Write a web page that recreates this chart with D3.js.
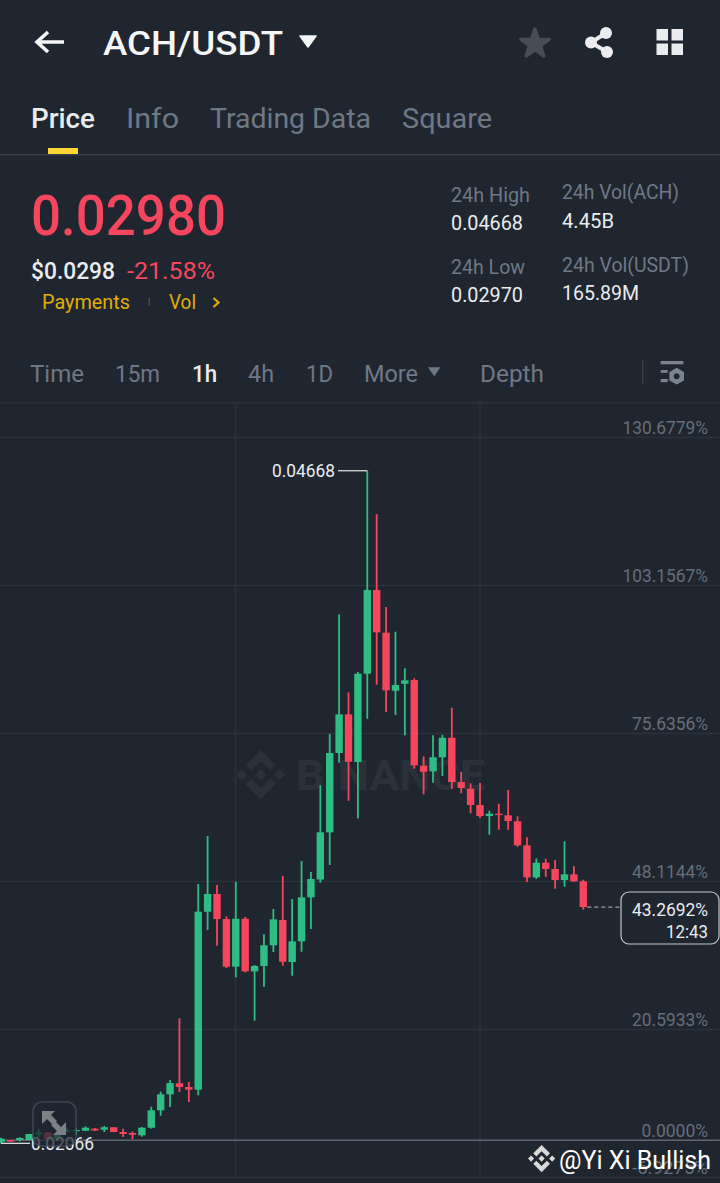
<!DOCTYPE html>
<html>
<head>
<meta charset="utf-8">
<script src="https://cdn.jsdelivr.net/npm/d3@7"></script>
<style>
html,body{margin:0;padding:0;background:#1f2630;}
svg{display:block;}
text{font-family:Roboto,"Noto Sans",sans-serif;}
</style>
</head>
<body>
<svg id="chart" width="720" height="1183"></svg>
<script>
// percent change from the period open, one entry per 1h candle
var opens = [-0.43,-0.06,-0.06,-0.06,1.06,1.38,0.19,1.56,1.62,1.67,2.05,1.86,2.31,1.43,1.25,0.82,2.23,5.47,8.44,10.49,
  9.80,9.30,42.40,45.69,41.04,32.17,41.09,31.31,32.30,36.15,
  40.85,33.04,36.89,45.07,48.38,57.16,71.91,79.10,70.23,86.65,
  102.22,94.28,83.49,84.79,85.48,69.55,68.50,71.11,74.75,66.51,
  65.27,62.24,60.19,60.62,60.32,59.21,54.74,48.79,51.51,50.34,
  48.29,49.35,48.05];
var closes = [0.19,-0.37,0.32,1.06,1.30,0.13,0.87,1.75,1.80,2.23,1.71,2.31,1.43,1.06,0.93,2.23,5.47,8.44,10.54,9.80,
  9.30,42.40,45.69,41.04,32.17,41.09,31.31,32.30,36.15,40.98,
  33.10,36.89,45.07,48.48,57.16,71.91,79.10,70.29,86.65,102.22,
  94.35,83.57,84.55,85.43,69.62,68.43,71.11,74.75,66.51,65.40,
  62.24,60.19,60.62,60.38,59.26,54.74,48.79,51.51,50.34,48.29,
  49.35,48.05,43.27];
var highs = [0.37,-0.06,0.45,1.06,1.93,1.38,1.38,2.12,2.12,2.49,2.18,2.55,2.31,2.05,1.49,2.36,6.14,8.93,11.10,22.57,
  10.73,47.55,56.47,47.36,41.54,47.98,41.41,32.49,38.19,42.90,
  49.04,44.76,51.82,49.78,65.90,75.44,97.70,83.19,86.97,124.40,
  116.35,99.06,94.46,87.66,85.80,71.29,75.20,75.31,80.33,68.43,
  66.27,66.33,61.18,62.48,65.03,60.14,56.23,52.33,52.25,52.01,
  55.49,50.84,48.35];
var lows = [-0.67,-0.37,-0.30,-0.06,0.56,0.13,-0.06,1.43,0.87,1.62,1.62,1.43,1.43,0.50,0.07,0.56,2.05,4.46,6.08,8.87,
  7.01,8.26,38.99,36.07,31.93,30.20,31.13,22.13,28.45,34.90,
  32.36,30.50,34.96,39.18,47.79,51.08,70.10,63.04,59.76,78.28,
  84.61,79.53,78.97,75.20,68.99,64.23,66.38,67.63,65.21,64.41,
  60.69,59.82,56.71,57.64,57.64,54.48,47.92,48.48,48.85,46.67,
  47.05,47.92,42.77];

var tickValues = [130.6779,103.1567,75.6356,48.1144,20.5933,0,-6.9275];
var tickLabels = ["130.6779%","103.1567%","75.6356%","48.1144%","20.5933%","0.0000%","-6.9275%"];
var lastPct = 43.2692;
var highPct = 124.40;
var lowPct = -0.67;

var WHITE = "#eaecef", GRAY = "#6f7885", RED = "#f6465d", GREEN = "#2ebd85", YELLOW = "#e2ad0c", GRID = "#2b3139";

var svg = d3.select("#chart");

// page text: label, left, right, baseline, size, weight, colour
var pageText = [
  ["ACH/USDT",103,283,55,33,500,"#f5f6f7"],
  ["Price",31,95,128,28,500,WHITE],
  ["Info",126,179,128,28,400,GRAY],
  ["Trading Data",210,371,128,28,400,GRAY],
  ["Square",402,492,128,28,400,GRAY],
  ["0.02980",31,226,235,55,500,RED],
  ["$0.0298",31,115,279,24,500,WHITE],
  ["-21.58%",127,215,279,24,400,RED],
  ["Payments",42,130,309,20,400,YELLOW],
  ["Vol",169,196,309,20,400,YELLOW],
  ["24h High",451,530,202,20,400,GRAY],
  ["0.04668",451,523,230,20,400,WHITE],
  ["24h Low",451,525,274,20,400,GRAY],
  ["0.02970",451,523,302,20,400,WHITE],
  ["24h Vol(ACH)",562,679,199,20,400,GRAY],
  ["4.45B",562,614,228,20,400,WHITE],
  ["24h Vol(USDT)",562,689,272,20,400,GRAY],
  ["165.89M",562,639,300,20,400,WHITE],
  ["Time",30,84,382,24,400,GRAY],
  ["15m",115,160,382,24,400,GRAY],
  ["1h",192,217,382,24,500,WHITE],
  ["4h",248,274,382,24,400,GRAY],
  ["1D",306,333,382,24,400,GRAY],
  ["More",364,418,382,24,400,GRAY],
  ["Depth",480,544,382,24,400,GRAY]
];

function label(g, t) {
  return g.append("text").text(t[0])
    .attr("x", t[1]).attr("y", t[3])
    .attr("textLength", t[2] - t[1]).attr("lengthAdjust", "spacingAndGlyphs")
    .attr("font-size", t[4]).attr("font-weight", t[5]).attr("fill", t[6]);
}

var binancePath = "M38.73 53.2l24.59-24.58 24.6 24.6 14.3-14.31L63.32 0 24.43 38.9zM0 63.31l14.3-14.31 14.31 14.31-14.31 14.3zM38.73 73.41l24.59 24.59 24.6-24.6 14.31 14.29-38.9 38.91-38.91-38.88zM98 63.31l14.3-14.31 14.31 14.3-14.31 14.32zM77.83 63.3L63.32 48.78 52.59 59.51l-1.24 1.23-2.54 2.54 14.51 14.5 14.51-14.47z";

// ---- chart ----
var x = d3.scaleLinear().domain([0, opens.length - 1]).range([1, 583.3]);
var y = d3.scaleLinear().domain([0, 130.6779]).range([1139.7, 437]);

var plot = svg.append("g");

// vertical grid
plot.selectAll("line.v").data([235.5, 480]).enter().append("line")
  .attr("x1", function(d){return d;}).attr("x2", function(d){return d;})
  .attr("y1", 404).attr("y2", 1177)
  .attr("stroke", GRID).attr("stroke-width", 1.5);

// percent axis, gridlines come from the tick lines
var axis = d3.axisRight(y).tickValues(tickValues)
  .tickSize(720).tickFormat(function(d, i){return tickLabels[i];});
var axisG = plot.append("g").call(axis);
axisG.select(".domain").remove();
axisG.selectAll(".tick line")
  .attr("stroke", function(d){return d === 0 ? "#5e6570" : GRID;})
  .attr("stroke-width", 1.5);
axisG.selectAll(".tick text")
  .attr("x", 708).attr("dy", -3.5).attr("text-anchor", "end")
  .attr("textLength", function(d, i){return tickLabels[i].length * 9.5;})
  .attr("lengthAdjust", "spacingAndGlyphs")
  .attr("font-size", 18).attr("font-family", "Roboto").attr("fill", "#666e7a");

// watermark
plot.append("path").attr("d", binancePath)
  .attr("transform", "translate(236,750) scale(0.39)").attr("fill", GRID);
plot.append("text").text("BINANCE").attr("x", 296).attr("y", 790)
  .attr("textLength", 189).attr("lengthAdjust", "spacingAndGlyphs")
  .attr("font-size", 42).attr("font-weight", 700).attr("fill", GRID);

// candles
var candles = plot.selectAll("g.candle").data(opens).enter().append("g").attr("class", "candle");
function colour(i){return closes[i] >= opens[i] ? GREEN : RED;}
candles.append("line")
  .attr("x1", function(d,i){return x(i);}).attr("x2", function(d,i){return x(i);})
  .attr("y1", function(d,i){return y(highs[i]);}).attr("y2", function(d,i){return y(lows[i]);})
  .attr("stroke", function(d,i){return colour(i);}).attr("stroke-width", 1.8);
candles.append("rect")
  .attr("x", function(d,i){return x(i) - 3.7;}).attr("width", 7.4)
  .attr("y", function(d,i){return y(Math.max(opens[i], closes[i]));})
  .attr("height", function(d,i){return Math.max(1.2, Math.abs(y(opens[i]) - y(closes[i])));})
  .attr("fill", function(d,i){return colour(i);});

// high and low markers
plot.append("line").attr("x1", 338).attr("x2", x(39)).attr("y1", y(highPct)).attr("y2", y(highPct))
  .attr("stroke", WHITE).attr("stroke-width", 1.2);
label(plot, ["0.04668",272,335,477,18,400,WHITE]);
plot.append("line").attr("x1", x(0)).attr("x2", 30).attr("y1", y(lowPct)).attr("y2", y(lowPct))
  .attr("stroke", WHITE).attr("stroke-width", 1.2);
label(plot, ["0.02066",31,94,1150,18,400,WHITE]);

// expand button sits over the first candles
plot.append("rect").attr("x", 33).attr("y", 1102).attr("width", 43).attr("height", 44).attr("rx", 9)
  .attr("fill", "#1f2630").attr("fill-opacity", 0.72)
  .attr("stroke", "#474d57").attr("stroke-opacity", 0.8).attr("stroke-width", 1.5);
plot.append("path").attr("d", "M42 1111h13l-4 4 6 6-4 4-6-6-5 5zM66 1135h-13l4-4-6-6 4-4 6 6 5-5z")
  .attr("fill", "#7c8188");

// last price tag
plot.append("line").attr("x1", x(62) + 4).attr("x2", 621).attr("y1", y(lastPct)).attr("y2", y(lastPct))
  .attr("stroke", "#9a9fa6").attr("stroke-width", 1.2).attr("stroke-dasharray", "4 3");
plot.append("rect").attr("x", 621).attr("y", 892).attr("width", 98).attr("height", 52).attr("rx", 8)
  .attr("fill", "#1f2630").attr("stroke", "#c4c7cb").attr("stroke-width", 1.2);
label(plot, ["43.2692%",632,708,916,18,400,WHITE]);
label(plot, ["12:43",666,708,938,18,400,WHITE]);

// ---- page chrome ----
var ui = svg.append("g");
pageText.forEach(function(t){label(ui, t);});

ui.append("rect").attr("x", 0).attr("y", 154).attr("width", 720).attr("height", 1.5).attr("fill", "#363c45");
ui.append("rect").attr("x", 48).attr("y", 148).attr("width", 30).attr("height", 6).attr("fill", "#fcd535");
ui.append("rect").attr("x", 0).attr("y", 402).attr("width", 720).attr("height", 1.5).attr("fill", GRID);

// back arrow
ui.append("path").attr("d", "M64 42H37M48 32L37 42L48 52").attr("fill", "none")
  .attr("stroke", "#f5f6f7").attr("stroke-width", 3.6);
// pair dropdown
ui.append("path").attr("d", "M300 36H316L308 47Z").attr("fill", "#f5f6f7")
  .attr("stroke", "#f5f6f7").attr("stroke-width", 1.5).attr("stroke-linejoin", "round");
// star
var star = d3.symbol().type(d3.symbolStar).size(250);
ui.append("path").attr("d", star()).attr("transform", "translate(535,44)")
  .attr("fill", "#474d57").attr("stroke", "#474d57").attr("stroke-width", 3.5).attr("stroke-linejoin", "round");
// share
ui.append("path").attr("d", "M606 33L591 42.5L607 52").attr("fill", "none").attr("stroke", "#eaecef").attr("stroke-width", 4);
ui.selectAll("circle.share").data([[606,33],[591,42.5],[607,52]]).enter().append("circle")
  .attr("cx", function(d){return d[0];}).attr("cy", function(d){return d[1];}).attr("r", 6).attr("fill", "#eaecef");
// layout grid
ui.selectAll("rect.cell").data([[656.5,29],[671.5,29],[656.5,43.5],[671.5,43.5]]).enter().append("rect")
  .attr("x", function(d){return d[0];}).attr("y", function(d){return d[1];})
  .attr("width", 11.5).attr("height", 11.5).attr("fill", "#eaecef");

// separator and chevron under the price
ui.append("rect").attr("x", 148.5).attr("y", 298).attr("width", 1.5).attr("height", 8).attr("fill", "#474d57");
ui.append("path").attr("d", "M213.5 298L218.5 302.5L213.5 307").attr("fill", "none")
  .attr("stroke", YELLOW).attr("stroke-width", 2.2);

// More dropdown and chart settings icon
ui.append("path").attr("d", "M428.5 367.5H440L434.2 376Z").attr("fill", GRAY)
  .attr("stroke", GRAY).attr("stroke-width", 0.5).attr("stroke-linejoin", "round");
ui.append("rect").attr("x", 642).attr("y", 360).attr("width", 1.5).attr("height", 24).attr("fill", "#363c45");
var settings = ui.append("g").attr("fill", "#7c8390");
settings.append("rect").attr("x", 660.7).attr("y", 361).attr("width", 22.6).attr("height", 3.3);
settings.append("rect").attr("x", 660.7).attr("y", 370).attr("width", 7).attr("height", 2.8);
settings.append("rect").attr("x", 660.7).attr("y", 379).attr("width", 7).attr("height", 3.2);
settings.append("path").attr("fill-rule", "evenodd")
  .attr("d", "M676.7 367.8L684 372V380.4L676.7 384.6L669.4 380.4V372ZM676.7 373.2a3 3 0 1 0 .01 0Z");

// watermark of the poster, on top of everything
var stamp = svg.append("g");
stamp.append("path").attr("d", binancePath)
  .attr("transform", "translate(528,1145) scale(0.215)").attr("fill", "#d8d8d8");
stamp.append("text").text("@Yi Xi Bullish").attr("x", 559).attr("y", 1169)
  .attr("textLength", 152).attr("lengthAdjust", "spacingAndGlyphs")
  .attr("font-family", "Noto Sans").attr("font-size", 26).attr("fill", "#ffffff");
</script>
</body>
</html>
